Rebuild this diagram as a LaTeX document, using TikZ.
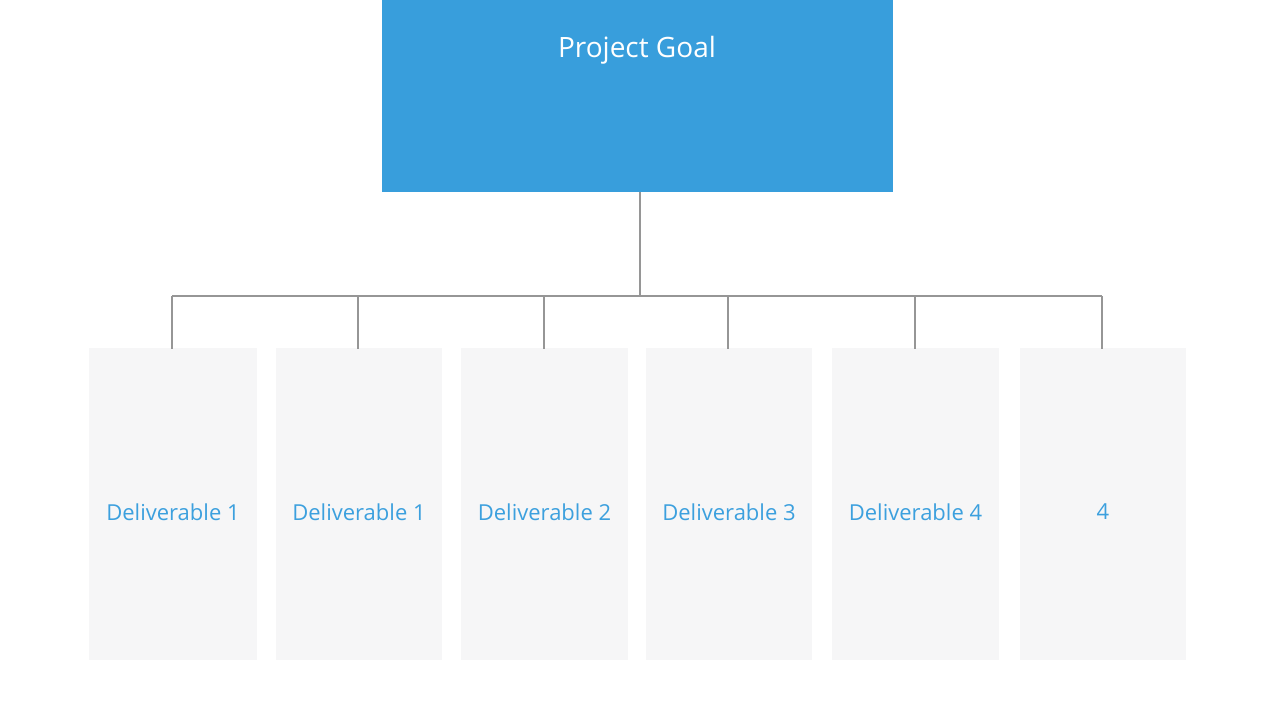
\documentclass[tikz,border=0pt]{standalone}
\usepackage{fontspec}
\setmainfont{Open Sans}
\definecolor{goalblue}{RGB}{56,158,220}
\definecolor{lbl}{RGB}{60,160,222}
\definecolor{boxfill}{RGB}{246,246,247}
\definecolor{conn}{RGB}{150,150,150}
\tikzset{
 goal/.style={fill=goalblue,draw=none},
 delbox/.style={fill=boxfill,draw=none},
 lab/.style={text=lbl,font=\fontsize{22}{26}\selectfont},
 link/.style={draw=conn,line width=2pt}
}
\begin{document}
\begin{tikzpicture}[x=1pt,y=-1pt]
\useasboundingbox (0,0) rectangle (1280,720);
\fill[white] (0,0) rectangle (1280,720);
\path[goal] (382,0) rectangle (893,192);
\node[text=white,font=\fontsize{28}{32}\selectfont] (g) at (637,50) {Project Goal};
\coordinate (gb) at (640,192);
\coordinate (hub) at (640,296);
\draw[link] (gb) -- (hub);
\draw[link] (172,296) -- (1102,296);
\foreach \xa/\xb/\t [count=\i] in {89/257/Deliverable 1,276/442/Deliverable 1,461/628/Deliverable 2,646/812/Deliverable 3,832/999/Deliverable 4,1020/1186/4}{
  \path[delbox] (\xa,348) rectangle (\xb,660);
  \node[lab] (d\i) at ({(\xa+\xb)/2},512) {\t};
}
\foreach \x in {172,358,544,728,915,1102}{
  \coordinate (t\x) at (\x,296);
  \coordinate (b\x) at (\x,349);
  \draw[link] (t\x) -- (b\x);
}
\end{tikzpicture}
\end{document}
